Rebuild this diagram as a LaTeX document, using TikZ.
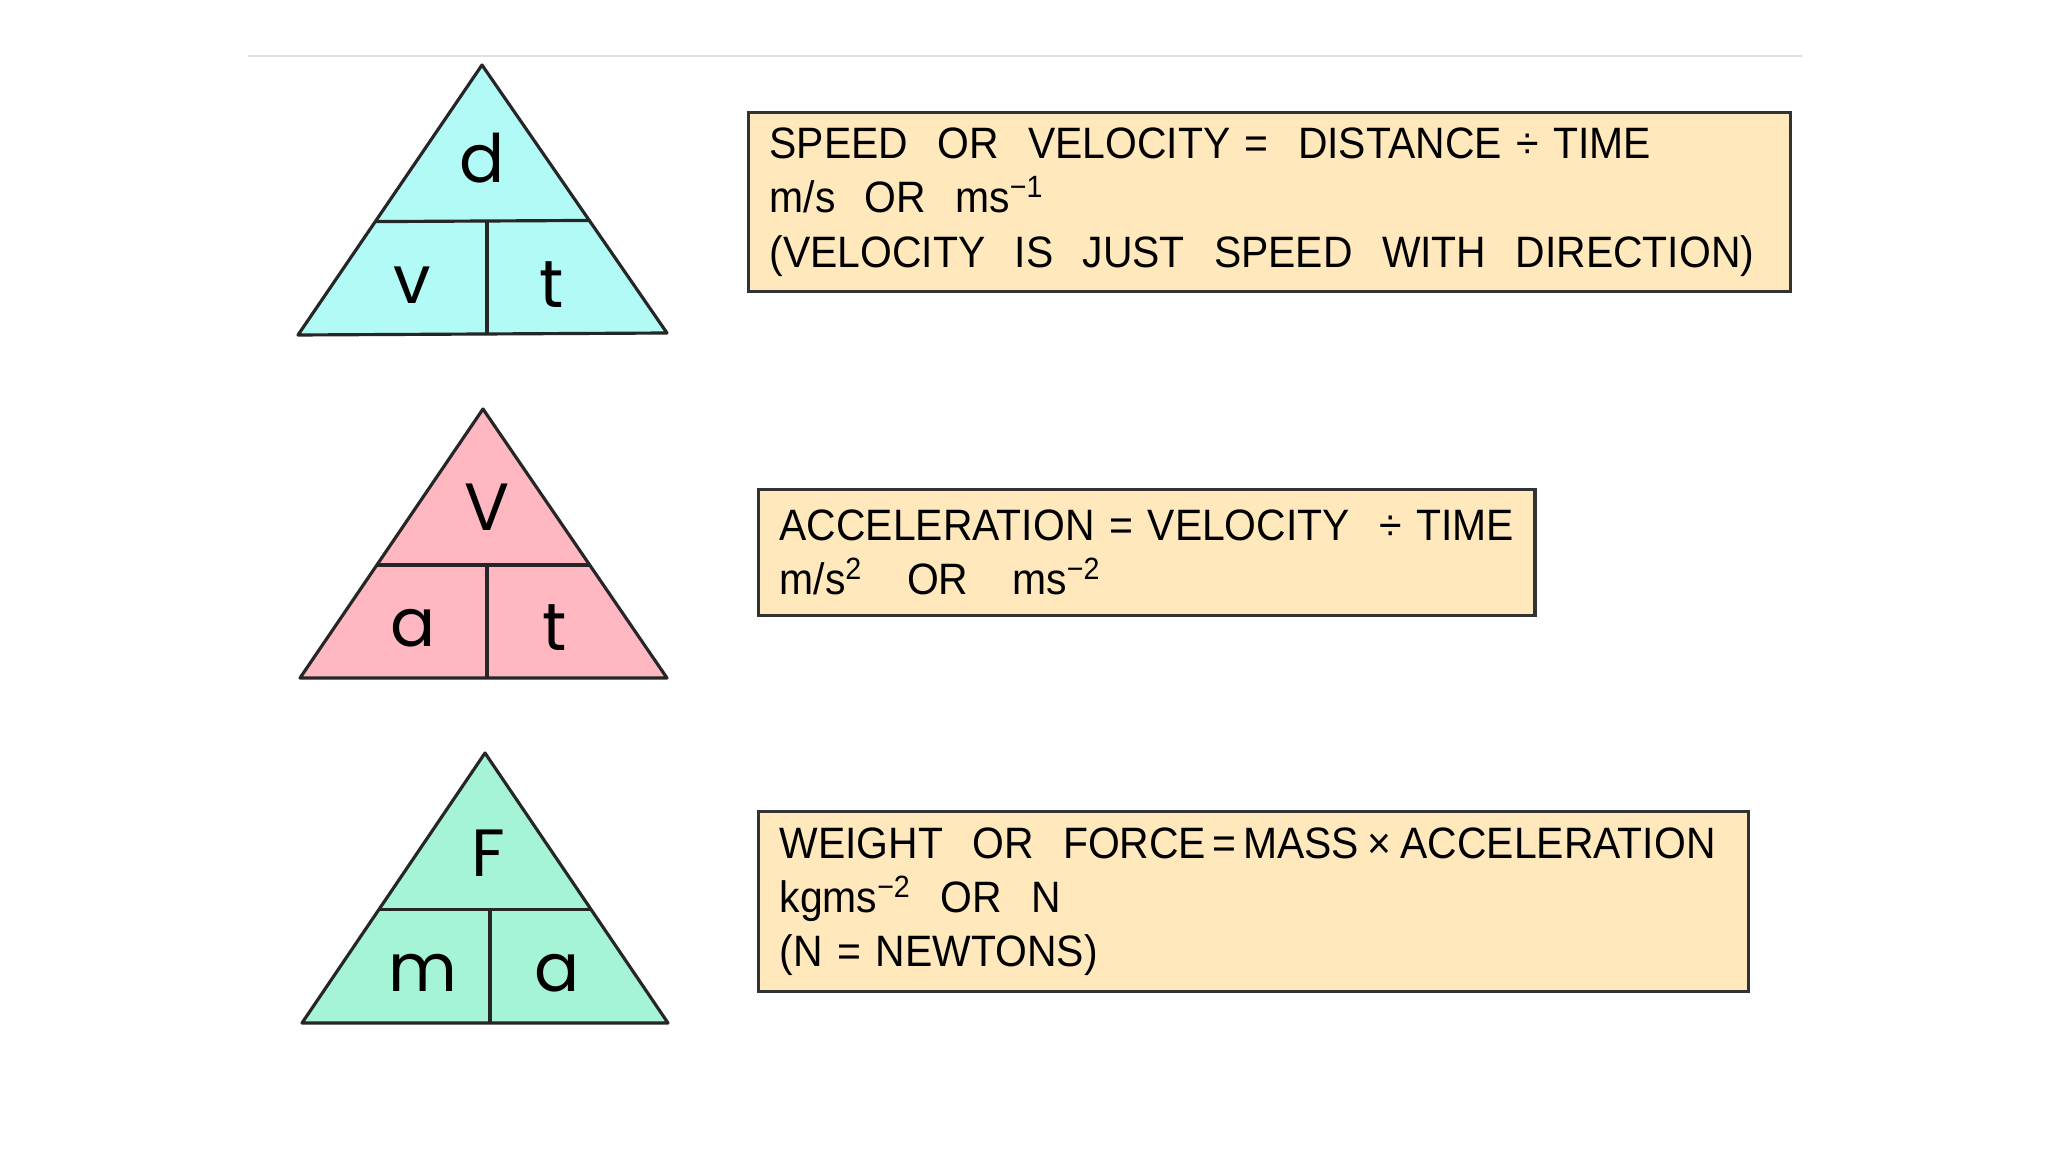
\documentclass[tikz,border=0pt]{standalone}
\usepackage{fontspec}
\setmainfont{Liberation Sans}[FakeStretch=0.93]
\newfontfamily\trifont{Poppins}
\usetikzlibrary{calc,positioning}

\definecolor{speedcyan}{HTML}{B2FAF6}
\definecolor{accpink}{HTML}{FFB8C2}
\definecolor{forcegreen}{HTML}{A6F4D6}
\definecolor{notebox}{HTML}{FFE8BC}

\tikzset{
  tri/.style={draw=black!85,line width=0.9pt,line join=round},
  trisplit/.style={draw=black!85,line width=0.9pt},
  trilabel/.style={font=\trifont\fontsize{19}{20}\selectfont},
  infobox/.style={draw=black!80,line width=0.9pt,fill=notebox,anchor=north west,
    align=left,inner xsep=0.21cm,font=\fontsize{12.5}{15.4}\selectfont}
}

\begin{document}
\begin{tikzpicture}[x=0.01cm,y=-0.01cm]
	\useasboundingbox (0,0) rectangle (2048,1152);
	\fill[white] (0,0) rectangle (2048,1152);
	\draw[black!12,line width=0.8pt] (248,56)--(1802,56);

	% speed triangle
	\coordinate (dTop) at (482,65);
	\coordinate (dLeft) at (298,335);
	\coordinate (dRight) at (667,333);
	\filldraw[tri,fill=speedcyan] (dTop)--(dRight)--(dLeft)--cycle;
	\draw[trisplit] ($(dTop)!0.58!(dLeft)$)--($(dTop)!0.58!(dRight)$);
	\draw[trisplit] (487,222)--(487,334);
	\node[trilabel] (dLbl) at (482,158) {d};
	\node[trilabel] (vLbl) at (412,285) {v};
	\node[trilabel] (tLbl) at (552,285) {t};

	% acceleration triangle
	\coordinate (vTop) at (483,409);
	\coordinate (vLeft) at (300,678);
	\coordinate (vRight) at (667,678);
	\filldraw[tri,fill=accpink] (vTop)--(vRight)--(vLeft)--cycle;
	\draw[trisplit] ($(vTop)!0.58!(vLeft)$)--($(vTop)!0.58!(vRight)$);
	\draw[trisplit] (487,565)--(487,678);
	\node[trilabel] (VLbl) at (487,507) {V};
	\node[trilabel] (aLbl) at (413,628) {a};
	\node[trilabel] (t2Lbl) at (555,628) {t};

	% force triangle
	\coordinate (fTop) at (485,753);
	\coordinate (fLeft) at (302,1023);
	\coordinate (fRight) at (668,1023);
	\filldraw[tri,fill=forcegreen] (fTop)--(fRight)--(fLeft)--cycle;
	\draw[trisplit] ($(fTop)!0.58!(fLeft)$)--($(fTop)!0.58!(fRight)$);
	\draw[trisplit] (490,909)--(490,1023);
	\node[trilabel] (FLbl) at (488,853) {F};
	\node[trilabel] (mLbl) at (423,973) {m};
	\node[trilabel] (a2Lbl) at (557,973) {a};

	% note boxes
	\node[infobox,text width=9.99cm,minimum height=1.79cm] (speedbox) at (747,111)
		{\mbox{SPEED \ OR \ VELOCITY = \ DISTANCE ÷ TIME}\\
		 m/s \ OR \ ms\textsuperscript{−1}\\
		 \mbox{(VELOCITY \ IS \ JUST \ SPEED \ WITH \ DIRECTION)}};
	\node[infobox,text width=7.34cm,minimum height=1.26cm] (accbox) at (757,488)
		{\mbox{ACCELERATION = VELOCITY \ ÷ TIME}\\
		 m/s\textsuperscript{2} \ \ OR \ \ ms\textsuperscript{−2}};
	\node[infobox,text width=9.47cm,minimum height=1.80cm] (forcebox) at (757,810)
		{\mbox{WEIGHT \ OR \ FORCE\hspace{0.15em}=\hspace{0.15em}MASS\hspace{0.2em}×\hspace{0.2em}ACCELERATION}\\
		 kgms\textsuperscript{−2} \ OR \ N\\
		 (N = NEWTONS)};
\end{tikzpicture}
\end{document}
